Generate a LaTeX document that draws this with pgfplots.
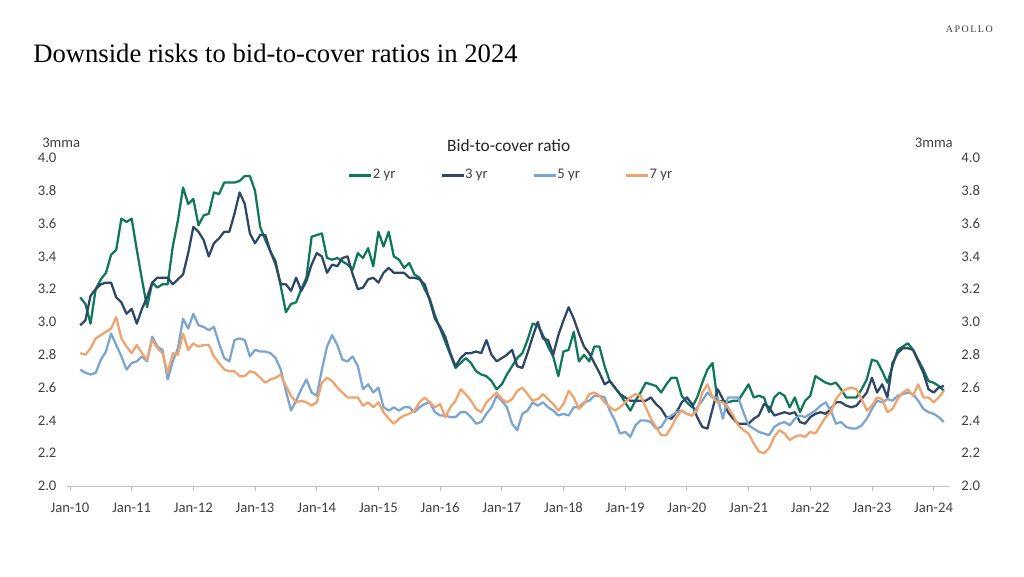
\documentclass[border=0pt]{standalone}
\usepackage{pgfplots}
\pgfplotsset{compat=1.18}
\usepackage{pgfplotstable}
\usepackage{fontspec}
\setmainfont{Carlito}
\newfontfamily\titlefont{Liberation Serif}
\definecolor{c2}{HTML}{10785A}
\definecolor{c3}{HTML}{2E4766}
\definecolor{c5}{HTML}{7BA5D1}
\definecolor{c7}{HTML}{EEA46C}
\definecolor{tickgray}{HTML}{404040}
\definecolor{axgray}{HTML}{BFBFBF}

\pgfplotstableread{
m g2 g3 g5 g7
2 3.15 2.98 2.71 2.81
3 3.11 3.01 2.69 2.80
4 2.99 3.16 2.68 2.84
5 3.20 3.20 2.69 2.90
6 3.26 3.23 2.77 2.92
7 3.30 3.24 2.82 2.94
8 3.41 3.24 2.93 2.96
9 3.44 3.15 2.86 3.03
10 3.63 3.12 2.79 2.90
11 3.61 3.05 2.71 2.85
12 3.63 3.08 2.75 2.81
13 3.44 2.99 2.76 2.86
14 3.26 3.08 2.79 2.81
15 3.09 3.15 2.76 2.77
16 3.24 3.24 2.91 2.89
17 3.21 3.27 2.85 2.84
18 3.23 3.27 2.83 2.81
19 3.23 3.27 2.65 2.69
20 3.46 3.23 2.76 2.81
21 3.62 3.26 2.84 2.80
22 3.82 3.29 3.02 2.93
23 3.72 3.42 2.96 2.83
24 3.75 3.58 3.05 2.87
25 3.59 3.55 2.98 2.85
26 3.65 3.50 2.97 2.86
27 3.66 3.40 2.95 2.86
28 3.79 3.48 2.97 2.79
29 3.78 3.51 2.87 2.75
30 3.85 3.55 2.78 2.71
31 3.85 3.55 2.76 2.70
32 3.85 3.66 2.89 2.70
33 3.86 3.79 2.90 2.67
34 3.89 3.72 2.89 2.67
35 3.89 3.54 2.79 2.70
36 3.80 3.48 2.83 2.69
37 3.58 3.53 2.82 2.66
38 3.50 3.53 2.82 2.63
39 3.43 3.43 2.81 2.65
40 3.37 3.35 2.78 2.66
41 3.22 3.23 2.71 2.68
42 3.06 3.23 2.58 2.61
43 3.11 3.19 2.46 2.55
44 3.12 3.27 2.52 2.51
45 3.20 3.19 2.59 2.52
46 3.27 3.25 2.65 2.51
47 3.52 3.35 2.57 2.49
48 3.53 3.42 2.55 2.51
49 3.54 3.40 2.71 2.63
50 3.39 3.30 2.85 2.66
51 3.38 3.35 2.92 2.64
52 3.39 3.34 2.86 2.60
53 3.37 3.39 2.77 2.57
54 3.35 3.40 2.76 2.54
55 3.32 3.29 2.79 2.54
56 3.42 3.20 2.73 2.54
57 3.39 3.21 2.59 2.49
58 3.45 3.26 2.62 2.51
59 3.34 3.27 2.57 2.48
60 3.55 3.24 2.60 2.51
61 3.46 3.30 2.48 2.45
62 3.55 3.33 2.46 2.41
63 3.40 3.30 2.48 2.38
64 3.38 3.30 2.46 2.41
65 3.33 3.30 2.48 2.43
66 3.36 3.27 2.48 2.44
67 3.29 3.27 2.45 2.46
68 3.27 3.26 2.48 2.51
69 3.20 3.23 2.50 2.54
70 3.14 3.13 2.51 2.51
71 3.04 3.02 2.45 2.48
72 2.96 2.97 2.43 2.50
73 2.88 2.91 2.43 2.42
74 2.80 2.81 2.42 2.48
75 2.72 2.73 2.42 2.52
76 2.75 2.78 2.45 2.59
77 2.78 2.81 2.45 2.56
78 2.75 2.81 2.42 2.52
79 2.70 2.82 2.38 2.47
80 2.68 2.81 2.39 2.45
81 2.67 2.89 2.44 2.51
82 2.64 2.80 2.48 2.54
83 2.59 2.76 2.55 2.57
84 2.62 2.78 2.52 2.53
85 2.68 2.80 2.48 2.51
86 2.73 2.83 2.38 2.53
87 2.78 2.73 2.34 2.58
88 2.81 2.72 2.44 2.60
89 2.89 2.81 2.46 2.56
90 2.99 2.91 2.51 2.52
91 2.98 3.00 2.49 2.53
92 2.92 2.90 2.51 2.56
93 2.85 2.89 2.48 2.53
94 2.79 2.80 2.46 2.50
95 2.67 2.92 2.43 2.46
96 2.82 3.01 2.44 2.50
97 2.83 3.09 2.43 2.58
98 2.94 3.02 2.48 2.54
99 2.76 2.93 2.48 2.47
100 2.80 2.85 2.51 2.50
101 2.76 2.81 2.52 2.56
102 2.85 2.75 2.55 2.57
103 2.85 2.69 2.55 2.55
104 2.73 2.62 2.54 2.51
105 2.64 2.64 2.46 2.48
106 2.60 2.60 2.40 2.46
107 2.56 2.56 2.32 2.48
108 2.51 2.54 2.33 2.51
109 2.46 2.52 2.30 2.54
110 2.52 2.52 2.37 2.56
111 2.57 2.52 2.40 2.55
112 2.63 2.52 2.40 2.48
113 2.62 2.54 2.39 2.41
114 2.61 2.50 2.35 2.36
115 2.57 2.47 2.36 2.31
116 2.62 2.42 2.41 2.31
117 2.66 2.41 2.43 2.36
118 2.66 2.45 2.45 2.42
119 2.55 2.51 2.46 2.46
120 2.51 2.54 2.44 2.44
121 2.48 2.50 2.43 2.43
122 2.54 2.42 2.48 2.46
123 2.63 2.36 2.52 2.57
124 2.71 2.35 2.57 2.62
125 2.75 2.47 2.54 2.54
126 2.51 2.59 2.54 2.51
127 2.52 2.53 2.41 2.51
128 2.51 2.45 2.54 2.48
129 2.52 2.41 2.54 2.43
130 2.52 2.38 2.54 2.37
131 2.57 2.38 2.45 2.34
132 2.62 2.38 2.37 2.32
133 2.54 2.41 2.35 2.26
134 2.55 2.43 2.33 2.21
135 2.54 2.50 2.32 2.20
136 2.45 2.48 2.31 2.23
137 2.54 2.43 2.36 2.30
138 2.57 2.44 2.38 2.34
139 2.55 2.45 2.39 2.32
140 2.48 2.44 2.37 2.28
141 2.54 2.45 2.41 2.30
142 2.45 2.39 2.43 2.31
143 2.52 2.38 2.42 2.30
144 2.55 2.42 2.44 2.33
145 2.67 2.44 2.46 2.32
146 2.65 2.45 2.49 2.37
147 2.63 2.44 2.51 2.42
148 2.62 2.47 2.46 2.45
149 2.63 2.51 2.38 2.53
150 2.59 2.51 2.39 2.57
151 2.54 2.49 2.36 2.59
152 2.54 2.48 2.35 2.60
153 2.54 2.49 2.35 2.59
154 2.59 2.53 2.37 2.53
155 2.65 2.57 2.41 2.46
156 2.77 2.66 2.47 2.49
157 2.76 2.57 2.52 2.54
158 2.70 2.62 2.51 2.53
159 2.63 2.54 2.53 2.45
160 2.73 2.75 2.52 2.47
161 2.83 2.81 2.55 2.53
162 2.85 2.84 2.56 2.57
163 2.87 2.84 2.57 2.59
164 2.83 2.83 2.56 2.55
165 2.77 2.76 2.52 2.62
166 2.71 2.69 2.47 2.54
167 2.64 2.59 2.45 2.54
168 2.63 2.57 2.44 2.51
169 2.61 2.60 2.42 2.54
170 2.58 2.61 2.39 2.58
}\bidtable

\begin{document}
\begin{tikzpicture}[x=0.75pt,y=0.75pt]
\path[fill=white] (0,0) rectangle (1024,576);
\node[anchor=base west, inner sep=0] at (33,513) {\titlefont\fontsize{20}{24}\selectfont Downside risks to bid-to-cover ratios in 2024};
\node[anchor=base east, inner sep=0, text=black!75] at (993,543) {\titlefont\fontsize{7.5}{9}\selectfont A\kern1.1pt P\kern1.1pt O\kern1.1pt L\kern1.1pt L\kern1.1pt O};
\node[anchor=base west, inner sep=0, text=tickgray] at (42,428) {\fontsize{11}{13}\selectfont 3mma};
\node[anchor=base east, inner sep=0, text=tickgray] at (953,428) {\fontsize{11}{13}\selectfont 3mma};

\begin{axis}[
  at={(50.55pt,67.5pt)}, anchor=south west,
  width=662pt, height=246pt, scale only axis,
  xmin=-0.5, xmax=171.2, ymin=2, ymax=4,
  axis x line*=bottom, axis y line*=left,
  x axis line style={draw=axgray, line width=0.6pt},
  y axis line style={draw=none},
  xtick={0,12,...,168},
  xticklabels={Jan-10,Jan-11,Jan-12,Jan-13,Jan-14,Jan-15,Jan-16,Jan-17,Jan-18,Jan-19,Jan-20,Jan-21,Jan-22,Jan-23,Jan-24},
  xtick style={draw=axgray, line width=0.6pt},
  tick align=outside, major tick length=3.5pt,
  ytick={2,2.2,...,4.01},
  ytick style={draw=none},
  /pgf/number format/assume math mode=true,
  tick label style={font=\fontsize{11}{13}\selectfont, text=tickgray},
  yticklabel style={xshift=-1.2pt, /pgf/number format/.cd, fixed, fixed zerofill, precision=1},
  xticklabel style={yshift=-5.5pt},
  title={Bid-to-cover ratio},
  title style={at={(0.5,1)}, anchor=base, yshift=-1.3pt, font=\fontsize{13}{15}\selectfont, text=black!85},
  legend columns=4,
  legend style={at={(0.503,0.948)}, anchor=center, draw=none, fill=none,
    font=\fontsize{11}{13}\selectfont, text=tickgray,
    /tikz/every even column/.append style={column sep=31.5pt},
    /tikz/every odd column/.append style={column sep=-2pt}},
  legend image code/.code={\draw[#1, line width=2.3pt] (0pt,0pt) -- (16.5pt,0pt);},
  line join=round,
]
\addplot[c2, line width=1.7pt] table[x=m, y=g2] {\bidtable};
\addlegendentry{2 yr}
\addplot[c3, line width=1.7pt] table[x=m, y=g3] {\bidtable};
\addlegendentry{3 yr}
\addplot[c5, line width=1.7pt] table[x=m, y=g5] {\bidtable};
\addlegendentry{5 yr}
\addplot[c7, line width=1.7pt] table[x=m, y=g7] {\bidtable};
\addlegendentry{7 yr}
\end{axis}

\begin{axis}[
  at={(50.55pt,67.5pt)}, anchor=south west,
  width=662pt, height=246pt, scale only axis,
  xmin=-0.5, xmax=171.2, ymin=2, ymax=4,
  axis x line=none, axis y line*=right,
  y axis line style={draw=none},
  ytick={2,2.2,...,4.01},
  ytick style={draw=none},
  /pgf/number format/assume math mode=true,
  tick label style={font=\fontsize{11}{13}\selectfont, text=tickgray},
  yticklabel style={xshift=5pt, /pgf/number format/.cd, fixed, fixed zerofill, precision=1},
]
\end{axis}
\end{tikzpicture}
\end{document}
